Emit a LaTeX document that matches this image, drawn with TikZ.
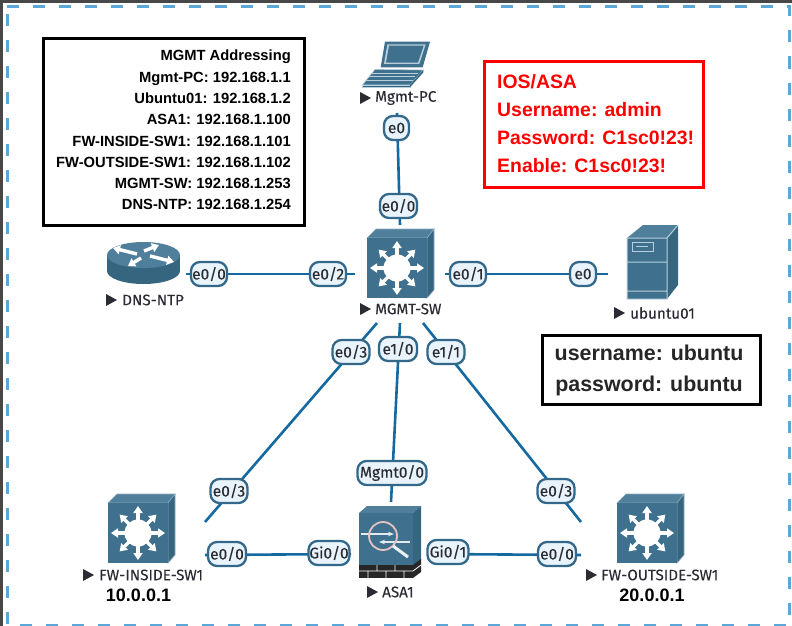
\documentclass[tikz,border=0pt]{standalone}
\usepackage{fontspec}
\setmainfont{Liberation Sans}
\newfontfamily\devfont[FakeBold=0.1]{Fira Sans}
\newfontfamily\pillfont[FakeBold=0.25]{Fira Sans}
\usetikzlibrary{arrows.meta,calc}
\definecolor{icofront}{HTML}{3F718E}
\definecolor{icotop}{HTML}{4F7F9B}
\definecolor{icoside}{HTML}{35657F}
\definecolor{icoline}{HTML}{B9D0DC}
\definecolor{linkblue}{HTML}{1469A0}
\definecolor{pillfill}{HTML}{E8F3FB}
\definecolor{pilledge}{HTML}{33688A}
\definecolor{framecol}{HTML}{5AA7D8}
\definecolor{devtext}{HTML}{2B2B33}
\tikzset{
  link/.style={draw=linkblue,line width=2.6pt},
  pill/.style={draw=pilledge,fill=pillfill,line width=2.3pt,rounded corners=9pt,inner sep=0pt,minimum height=24pt,font=\pillfont\fontsize{15.5}{15.5}\selectfont,text=devtext},
  dev/.style={inner sep=0pt,outer sep=0pt,draw=none,minimum width=#1},
  devlabel/.style={anchor=west,inner sep=0pt,font=\devfont\fontsize{15.2}{15.2}\selectfont,text=devtext},
  infobox/.style={line width=3pt,fill=white,inner sep=0pt},
  infotext/.style={font=\bfseries\fontsize{14.75}{21.3}\selectfont},
  tri/.style={fill=devtext,draw=none},
  switchicon/.pic={
    \fill[icotop,draw=icoline!60!icofront,line width=.6pt] (-30,-30)--(-21,-39)--(37,-39)--(30,-30)--cycle;
    \fill[icoside,draw=icoline!60!icofront,line width=.6pt] (30,-30)--(37,-39)--(37,22)--(30,30)--cycle;
    \fill[icofront] (-30,-30) rectangle (30,30);
    \fill[white] (0,0) circle (13.5);
    \foreach \a/\r in {0/27,90/27,180/27,270/27,45/26,135/26,225/26,315/26}
      \draw[white,line width=3.2pt,-{Triangle[length=7pt,width=9pt]}] (\a:12)--(\a:\r);
  },
}
\newcommand{\devtri}[2]{\fill[tri] (#1,#2-6)--(#1+11,#2)--(#1,#2+6)--cycle;}
\begin{document}
\begin{tikzpicture}[x=1pt,y=-1pt]
\useasboundingbox (0,0) rectangle (792,626);
\fill[white] (0,0) rectangle (792,626);
\fill[black!72] (0,0) rectangle (792,3);
\fill[black!72] (0,0) rectangle (3,626);
\draw[framecol,line width=3pt,dash pattern=on 12pt off 14pt] (7,7)--(789.5,7)--(789.5,625)--(7,625)--cycle;

% device anchors
\node[dev=92pt,minimum height=71pt] (pc) at (397,77.5) {};
\node[dev=90pt,minimum height=98pt] (mgmt) at (400,274) {};
\node[dev=86pt,minimum height=76pt] (dns) at (143,274) {};
\node[dev=82pt,minimum height=98pt] (ubuntu) at (649,274) {};
\node[dev=125pt,minimum height=114pt] (inside) at (142.5,555) {};
\node[dev=80pt,minimum height=104pt] (asa) at (391,554) {};
\node[dev=139pt,minimum height=114pt] (outside) at (650.5,555) {};

% connectors
\draw[link] (pc.south)--(mgmt.north);
\draw[link] (dns.east)--(mgmt.west);
\draw[link] (mgmt.east)--(ubuntu.west);
\draw[link] ([xshift=-23pt]mgmt.south)--([yshift=33pt]inside.east);
\draw[link] (mgmt.south)--(asa.north);
\draw[link] ([xshift=23pt]mgmt.south)--([yshift=33pt]outside.west);
\draw[link] (inside.east)--(asa.west);
\draw[link] (asa.east)--(outside.west);

% laptop
\begin{scope}[shift={(330,30)},scale=1/3]
  \fill[icofront] (165,35)--(300,35)--(278,112)--(152,112)--cycle;
  \fill[icoline] (172,43)--(287,43)--(268,102)--(162,102)--cycle;
  \fill[icofront] (177,47)--(281,47)--(264,98)--(168,98)--cycle;
  \fill[icofront,draw=icoline,line width=.6pt] (97,165)--(135,118)--(280,120)--(240,165)--cycle;
  \foreach \y in {130,140,150} \draw[icoline,line width=.5pt] ({135-(\y-118)*.8},\y)--({275-(\y-118)*.85},\y);
  \fill[icoside,draw=icoline,line width=.5pt] (97,165)--(240,165)--(240,172)--(97,172)--cycle;
  \fill[icoside] (240,165)--(280,120)--(280,127)--(240,172)--cycle;
\end{scope}
\devtri{360}{98}
\node[devlabel] (pcl) at (375,98) {Mgmt-PC};

% switches
\pic at (397,268) {switchicon};
\devtri{360}{309}
\node[devlabel] (mgmtl) at (375,309) {MGMT-SW};
\pic at (138,533) {switchicon};
\devtri{83}{575}
\node[devlabel] (insidel) at (99,575) {FW-INSIDE-SW1};
\pic at (647,533) {switchicon};
\devtri{586}{575}
\node[devlabel] (outsidel) at (601,575) {FW-OUTSIDE-SW1};

% router
\fill[icoside] (143.5,271) ellipse[x radius=36.5,y radius=13];
\fill[icoside] (107,255) rectangle (180,271);
\fill[icotop] (143.5,255) ellipse[x radius=36.5,y radius=13];
\foreach \p/\q in {{137,254}/{113,248},{144,251}/{159,245},{150,256}/{174,262},{141,258}/{128,266}}
  \draw[white,line width=3.4pt,-{Triangle[length=7pt,width=9pt]}] (\p)--(\q);
\devtri{106}{300}
\node[devlabel] (dnsl) at (122,300) {DNS-NTP};

% server
\fill[icotop] (627,238)--(643,225)--(678,225)--(667,238)--cycle;
\fill[icoside] (667,238)--(678,225)--(678,285)--(667,299)--cycle;
\fill[icofront] (627,238) rectangle (667,299);
\draw[icoline,line width=1pt] (627,238) rectangle (667,299) (627,262)--(667,262) (627,291)--(667,291) (667,238)--(678,225);
\draw[icoline,line width=1pt] (632,242) rectangle (653,251);
\draw[icoline,line width=1.2pt] (636,246.5)--(648,246.5);
\devtri{614}{313}
\node[devlabel] (ubuntul) at (630,313) {ubuntu01};

% ASA
\fill[icotop] (359,513)--(367,506)--(421,506)--(413,513)--cycle;
\fill[icoside] (413,513)--(421,506)--(421,560)--(413,566)--cycle;
\fill[icofront] (359,513) rectangle (413,565);
\draw[white!85!icofront,line width=1.2pt,-{Stealth[length=6pt]}] (361,534)--(394,534);
\draw[white!85!icofront,line width=1.2pt,-{Stealth[length=6pt]}] (410,542)--(379,542);
\draw[white!85!red!90!black,line width=1.8pt] (383,536) circle (14);
\draw[white!90!icofront,line width=3pt] (393,546)--(408,557);
\fill[black!85] (359,565) rectangle (413,578);
\fill[black!85] (413,565)--(421,559)--(421,572)--(413,578)--cycle;
\draw[white,line width=.8pt] (359,571)--(413,571)--(421,565) (377,565)--(377,571) (395,565)--(395,571) (368,571)--(368,578) (386,571)--(386,578) (404,571)--(404,578);
\devtri{367}{592}
\node[devlabel] (asal) at (382,592) {ASA1};

% port labels
\node[pill,minimum width=25pt] (p1) at (396.5,128) {e0};
\node[pill,minimum width=37pt] (p2) at (398.5,206) {e0/0};
\node[pill,minimum width=36pt] (p3) at (209,274) {e0/0};
\node[pill,minimum width=36pt] (p4) at (328,274) {e0/2};
\node[pill,minimum width=36pt] (p5) at (468,274) {e0/1};
\node[pill,minimum width=26pt] (p6) at (583,274) {e0};
\node[pill,minimum width=37pt] (p7) at (351,352) {e0/3};
\node[pill,minimum width=38pt] (p8) at (398,349) {e1/0};
\node[pill,minimum width=37pt] (p9) at (446,352) {e1/1};
\node[pill,minimum width=37pt] (p10) at (229,491) {e0/3};
\node[pill,minimum width=38pt] (p11) at (227,554) {e0/0};
\node[pill,minimum width=41pt] (p12) at (329,553) {Gi0/0};
\node[pill,minimum width=69pt] (p13) at (392,473) {Mgmt0/0};
\node[pill,minimum width=41pt] (p14) at (448,552) {Gi0/1};
\node[pill,minimum width=38pt] (p15) at (557,554) {e0/0};
\node[pill,minimum width=37pt] (p16) at (556,491) {e0/3};

% boxes
\node[infobox,draw=black,minimum width=261pt,minimum height=186pt] (addr) at (173.5,132) {};
\node[infotext,anchor=north east,align=right,inner sep=0pt] (addrt) at (291,50) {MGMT Addressing\\Mgmt-PC: 192.168.1.1\\Ubuntu01: 192.168.1.2\\ASA1: 192.168.1.100\\FW-INSIDE-SW1: 192.168.1.101\\FW-OUTSIDE-SW1: 192.168.1.102\\MGMT-SW: 192.168.1.253\\DNS-NTP: 192.168.1.254};
\node[infobox,draw=red,minimum width=219pt,minimum height=125pt] (cred) at (593.5,124.5) {};
\node[anchor=north west,align=left,inner sep=0pt,text=red,font=\bfseries\fontsize{19.4}{28}\selectfont] (credt) at (497,74) {IOS/ASA\\Username: admin\\Password: C1sc0!23!\\Enable: C1sc0!23!};
\node[infobox,draw=black,minimum width=218pt,minimum height=69pt] (ub) at (651,369.5) {};
\node[align=center,inner sep=0pt,font=\bfseries\fontsize{21.4}{31}\selectfont,text=black!85] (ubt) at (649,370) {username: ubuntu\\password: ubuntu};
\node[font=\bfseries\fontsize{18}{18}\selectfont,inner sep=0pt] (ipa) at (138.5,595.5) {10.0.0.1};
\node[font=\bfseries\fontsize{18}{18}\selectfont,inner sep=0pt] (ipb) at (652,595.5) {20.0.0.1};
\end{tikzpicture}
\end{document}
